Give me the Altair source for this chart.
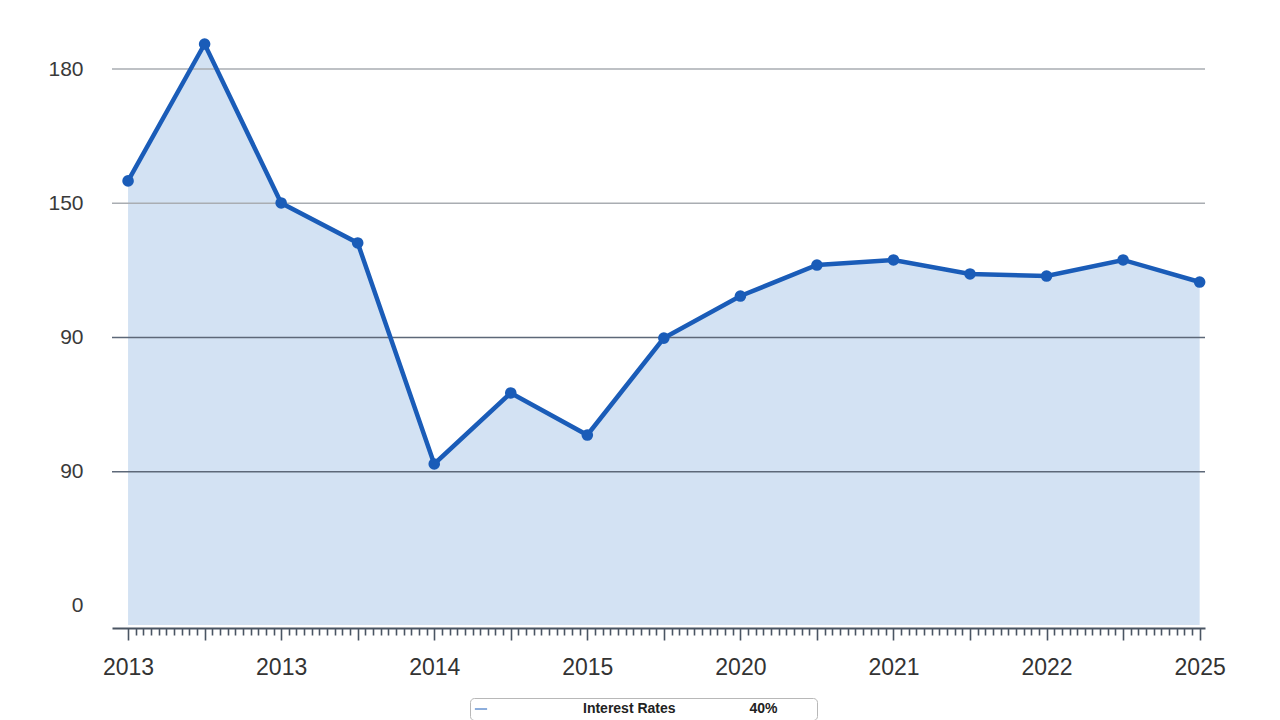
import altair as alt
import pandas as pd

# ---- data ----
idx = list(range(15))
values = [142.5, 188.4, 135.1, 121.7, 47.6, 71.4, 57.3, 89.8, 103.9, 114.3,
          116.0, 111.3, 110.6, 116.0, 108.6]
x_label_idx = [0, 2, 4, 6, 8, 10, 12, 14]
x_label_txt = ["2013", "2013", "2014", "2015", "2020", "2021", "2022", "2025"]
y_tick_vals = [0, 45, 90, 135, 180]
y_tick_txt = ["0", "90", "90", "150", "180"]
grid_vals = [45, 90, 135, 180]
series_name = "Interest Rates"
legend_extra = "40%"

LINE = "#1a5cb8"
FILL = "#d3e2f3"
FONT = "Liberation Sans"

XMIN, XMAX = -0.21, 14.07
YMIN, YMAX = -6.4, 193.1

df = pd.DataFrame({"idx": idx, "value": values, "series": series_name})
grid_df = pd.DataFrame({"g": grid_vals})

def ternary(vals, txts, fallback="''"):
    expr = fallback
    for v, t in reversed(list(zip(vals, txts))):
        expr = f"datum.value == {v} ? '{t}' : ({expr})"
    return expr

x_ticks = [round(k * 0.1, 1) for k in range(0, 141)]

x_axis = alt.Axis(
    values=x_ticks, labelExpr=ternary(x_label_idx, x_label_txt), labelOverlap=False,
    labelBound=False, labelFlush=False, title=None, grid=False, domain=True,
    domainColor="#4a5563", domainWidth=2, offset=3,
    tickColor="#4a5563", tickWidth=1.6,
    tickSize={"condition": {"test": "datum.value % 1 == 0", "value": 12}, "value": 7},
    labelFont=FONT, labelFontSize=23, labelColor="#333333", labelPadding=16,
)
y_axis = alt.Axis(
    values=y_tick_vals, labelExpr=ternary(y_tick_vals, y_tick_txt), title=None,
    grid=False, domain=False, ticks=False, labelFont=FONT, labelFontSize=21,
    labelColor="#3a3a3a", labelPadding=29,
)

x = alt.X("idx:Q", scale=alt.Scale(domain=[XMIN, XMAX], nice=False, zero=False), axis=x_axis)
y = alt.Y("value:Q", scale=alt.Scale(domain=[YMIN, YMAX], nice=False, zero=False), axis=y_axis)

base = alt.Chart(df)
area = base.mark_area(color=FILL, opacity=1).encode(x=x, y=y, y2=alt.datum(YMIN))

grid = alt.Chart(grid_df).mark_rule(strokeWidth=1.5).encode(
    y=alt.Y("g:Q"),
    color=alt.condition("datum.g >= 135", alt.value("#a9adb2"), alt.value("#5d6878")),
)

gap = "\u00a0" * 19
tail = "\u00a0" * 9 + "\u200b"
line = base.mark_line(strokeWidth=4.5).encode(
    x=x, y=y,
    color=alt.Color("series:N", scale=alt.Scale(range=[LINE]),
                    legend=alt.Legend(title=None, orient="none", legendX=358, legendY=668,
                                      strokeColor="#b8b8b8", fillColor="white", cornerRadius=4,
                                      padding=4, labelFont=FONT, labelFontSize=14,
                                      labelFontWeight="bold", labelColor="#222",
                                      labelOffset=95, symbolType="stroke", symbolSize=150,
                                      symbolStrokeWidth=1, labelLimit=400,
                                      labelExpr=f"datum.label + '{gap}{legend_extra}{tail}'")),
)
points = base.mark_circle(size=135, opacity=1, color=LINE).encode(x=x, y=y)

chart = alt.layer(area, grid, line, points).properties(
    width=1093, height=595,
    background="white",
    autosize=alt.AutoSizeParams(type="none"),
    padding={"left": 104, "top": 22, "right": 67, "bottom": 110},
).configure_view(strokeWidth=0)

chart.save("out.html", embed_options={"renderer": "svg", "actions": False})
